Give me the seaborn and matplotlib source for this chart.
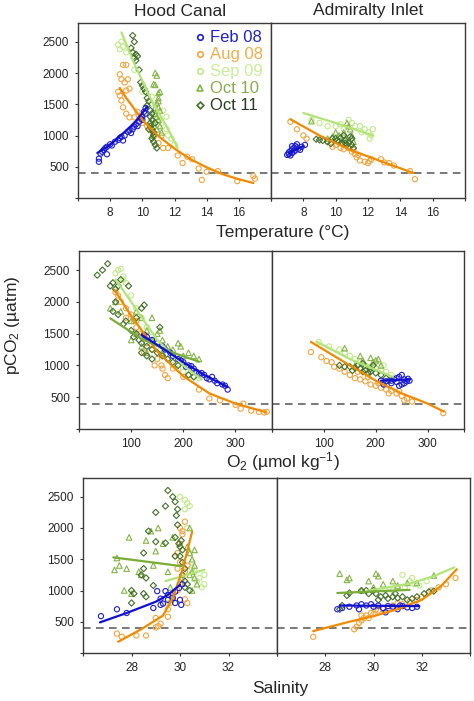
import matplotlib
matplotlib.use('Agg')
import matplotlib.pyplot as plt
from matplotlib.lines import Line2D
import seaborn as sns
import pandas as pd

# ---- data: (x, pCO2) pairs ----
labels = ['Feb 08', 'Aug 08', 'Sep 09', 'Oct 10', 'Oct 11']

# Hood Canal vs temperature
hc_temp_feb = [(7.3, 580), (7.3, 630), (7.4, 710), (7.5, 740), (7.6, 770), (7.7, 800), (7.8, 820), (7.8, 700),
               (8.0, 860), (8.1, 840), (8.3, 900), (8.5, 930), (8.6, 960), (8.7, 980), (8.8, 920), (8.9, 1000),
               (9.1, 1060), (9.2, 1080), (9.4, 1100), (9.5, 1140), (9.6, 1180), (9.7, 1150), (9.8, 1220),
               (9.9, 1270), (10.0, 1300), (10.1, 1380), (10.2, 1440), (10.2, 1350), (10.0, 1250), (9.3, 1040)]
hc_temp_aug = [(8.6, 1980), (8.8, 2130), (9.0, 2130), (8.7, 1900), (8.9, 1850), (9.1, 1900), (8.5, 1700),
               (8.6, 1640), (8.7, 1560), (9.0, 1720), (9.2, 1750), (8.8, 1450), (9.0, 1350), (9.2, 1290),
               (9.5, 1290), (9.7, 1380), (9.9, 1300), (10.0, 1200), (10.3, 1150), (10.5, 1080), (10.7, 980),
               (11.0, 880), (11.3, 800), (11.6, 800), (11.2, 1000), (12.5, 560), (12.8, 660), (13.1, 620),
               (13.5, 470), (13.7, 290), (14.0, 420), (14.7, 430), (15.9, 270), (16.9, 350), (17.0, 310), (12.2, 680)]
hc_temp_sep = [(8.5, 2450), (8.6, 2380), (8.7, 2500), (8.8, 2420), (9.0, 2330), (9.5, 2050), (10.0, 1700),
               (10.5, 1500), (10.8, 1350), (11.0, 1250), (11.2, 1200), (11.5, 1100), (11.6, 1000), (11.8, 950),
               (12.0, 860), (11.3, 1400), (11.0, 1150), (11.5, 1300), (10.6, 1620)]
hc_temp_oct10 = [(10.8, 2000), (10.9, 1960), (10.7, 1820), (10.8, 1810), (11.0, 1680), (11.1, 1700), (11.0, 1600),
                 (10.9, 1520), (11.0, 1450), (11.1, 1400), (10.8, 1350), (10.9, 1300), (11.0, 1250), (10.7, 1200),
                 (10.9, 1100), (11.1, 1150), (11.2, 1050), (10.6, 1000), (11.0, 1550), (10.8, 1450)]
hc_temp_oct11 = [(9.4, 2600), (9.5, 2500), (9.3, 2400), (9.4, 2330), (9.6, 2300), (9.5, 2240), (9.7, 2270),
                 (9.6, 2200), (9.8, 2050), (9.9, 1850), (10.0, 1800), (10.1, 1750), (10.2, 1700), (10.3, 1600),
                 (10.4, 1550), (10.3, 1480), (10.5, 1400), (10.5, 1300), (10.6, 1250), (10.5, 1150), (10.6, 1100),
                 (10.7, 1050), (10.6, 950), (10.7, 900), (10.8, 850), (10.9, 800), (10.7, 1000), (10.5, 1200),
                 (10.4, 1100), (10.8, 1200), (10.6, 1350)]
hc_temp_feb_fit = [(7.2, 720), (8.0, 850), (9.0, 1080), (9.6, 1230), (10.3, 1460)]
hc_temp_aug_fit = [(8.6, 1760), (9.0, 1600), (10.0, 1250), (11.0, 990), (12.0, 790), (13.0, 620), (14.0, 490),
                   (15.0, 380), (16.0, 300), (16.9, 240)]
hc_temp_sep_fit = [(8.7, 2650), (9.5, 2150), (10.5, 1600), (11.5, 1150), (12.2, 800)]

# Admiralty Inlet vs temperature
ai_temp_feb = [(7.1, 700), (7.2, 750), (7.3, 780), (7.4, 800), (7.5, 830), (7.6, 860), (7.2, 680), (7.3, 720),
               (7.5, 760), (7.7, 790), (7.9, 820), (8.1, 850), (7.4, 740), (7.6, 810), (7.0, 690), (7.3, 830),
               (7.8, 770), (7.1, 730)]
ai_temp_aug = [(7.2, 1220), (7.6, 1100), (8.0, 1000), (8.2, 950), (9.5, 900), (10.0, 850), (10.3, 800),
               (10.5, 780), (10.8, 800), (11.0, 740), (11.2, 700), (11.3, 650), (11.5, 600), (11.8, 580),
               (12.0, 560), (12.2, 620), (12.8, 620), (13.0, 570), (13.3, 560), (13.6, 520), (14.6, 430),
               (14.9, 300), (10.6, 850), (11.1, 770), (12.1, 590), (9.8, 820), (11.4, 690)]
ai_temp_sep = [(8.5, 1250), (9.0, 1200), (9.5, 1150), (10.0, 1150), (10.5, 1100), (10.8, 1250), (11.0, 1200),
               (11.2, 1150), (11.5, 1150), (11.8, 1100), (12.0, 1050), (12.2, 1000), (12.3, 1100), (11.6, 1050),
               (12.1, 950), (10.3, 1180)]
ai_temp_oct10 = [(8.5, 1230), (10.8, 1150), (10.5, 1050), (10.9, 1100), (11.0, 1000), (10.2, 1000), (9.8, 980),
                 (9.5, 950), (10.6, 950), (11.1, 900), (10.0, 1050), (10.7, 1200)]
ai_temp_oct11 = [(8.8, 940), (9.0, 930), (9.2, 920), (9.5, 900), (9.8, 950), (10.0, 950), (10.2, 900),
                 (10.4, 880), (10.6, 920), (10.8, 880), (11.0, 850), (11.1, 800), (10.5, 1000), (10.9, 980),
                 (9.7, 870), (10.3, 960), (10.7, 850), (10.1, 920), (10.6, 880), (11.0, 950)]
ai_temp_feb_fit = [(7.1, 720), (7.5, 770), (8.0, 830)]
ai_temp_aug_fit = [(7.2, 1260), (9.0, 1000), (11.0, 760), (13.0, 570), (14.8, 400)]
ai_temp_sep_fit = [(8.0, 1360), (10.0, 1200), (12.3, 1000)]

# Hood Canal vs O2
hc_o2_feb = [(125, 1480), (130, 1450), (140, 1400), (150, 1350), (160, 1300), (165, 1250), (175, 1200),
             (180, 1150), (190, 1100), (200, 1050), (205, 980), (210, 1000), (220, 950), (225, 900), (230, 870),
             (240, 850), (245, 800), (250, 780), (255, 820), (260, 760), (265, 720), (275, 700), (285, 620),
             (280, 680), (215, 990), (195, 1080), (235, 880)]
hc_o2_aug = [(70, 2150), (75, 2100), (80, 2000), (90, 1900), (100, 1800), (105, 1700), (110, 1600), (115, 1500),
             (120, 1450), (130, 1350), (140, 1250), (150, 1100), (160, 950), (158, 1000), (165, 850), (170, 800),
             (180, 950), (200, 820), (230, 620), (250, 480), (270, 450), (300, 380), (310, 320), (315, 400),
             (330, 290), (345, 270), (355, 260), (360, 270), (90, 1750), (110, 1700), (125, 1200), (145, 1000)]
hc_o2_sep = [(70, 2450), (75, 2500), (80, 2520), (85, 2400), (90, 2300), (100, 2100), (110, 1900), (120, 1750),
             (130, 1600), (140, 1450), (150, 1300), (160, 1200), (170, 1100), (180, 1000), (190, 950),
             (200, 900), (210, 850), (220, 820), (230, 800), (85, 2350)]
hc_o2_oct10 = [(60, 1900), (70, 2000), (80, 1850), (100, 1700), (110, 1850), (120, 1750), (130, 1550),
               (140, 1750), (150, 1500), (155, 1550), (160, 1400), (170, 1300), (180, 1250), (190, 1350),
               (195, 1300), (200, 1150), (210, 1200), (220, 1150), (230, 1100), (140, 1400), (120, 1300),
               (100, 1400), (160, 1200), (130, 1200), (110, 1500)]
hc_o2_oct11 = [(35, 2420), (45, 2500), (55, 2600), (60, 2250), (65, 2300), (70, 2200), (75, 2250), (80, 2350),
               (95, 2250), (70, 2000), (65, 1850), (75, 1800), (85, 1650), (90, 1700), (100, 1550), (110, 1500),
               (110, 1750), (120, 1900), (125, 1950), (115, 1400), (120, 1350), (130, 1300), (140, 1250),
               (150, 1200), (155, 1600), (160, 1150), (170, 1100), (180, 1050), (190, 1000), (210, 850),
               (220, 820), (130, 1150), (140, 1100), (120, 1200), (105, 1450)]
hc_o2_feb_fit = [(120, 1480), (160, 1270), (200, 1050), (240, 850), (285, 660)]
hc_o2_aug_fit = [(68, 2190), (100, 1780), (150, 1220), (200, 830), (250, 560), (300, 400), (358, 265)]
hc_o2_sep_fit = [(70, 2350), (100, 2000), (150, 1400), (200, 1000), (235, 780)]
hc_o2_oct10_fit = [(60, 1740), (120, 1420), (180, 1200), (230, 1060)]

# Admiralty Inlet vs O2
ai_o2_feb = [(210, 760), (220, 750), (230, 760), (235, 780), (240, 800), (245, 820), (250, 850), (255, 780),
             (260, 750), (265, 760), (250, 700), (245, 680), (240, 740), (255, 720), (230, 720), (262, 790),
             (215, 700)]
ai_o2_aug = [(75, 1210), (95, 1130), (105, 1070), (115, 1050), (120, 980), (130, 950), (140, 900), (150, 850),
             (160, 800), (170, 780), (180, 750), (190, 700), (200, 680), (210, 650), (220, 620), (230, 600),
             (240, 560), (250, 520), (260, 480), (270, 430), (330, 250), (165, 900), (185, 820), (205, 720),
             (225, 560), (245, 600), (255, 450)]
ai_o2_sep = [(90, 1370), (110, 1300), (130, 1250), (140, 1200), (150, 1150), (160, 1100), (170, 1050),
             (180, 1000), (190, 980), (200, 950), (210, 920), (220, 900), (230, 850), (200, 1050), (215, 1000)]
ai_o2_oct10 = [(140, 1270), (170, 1150), (190, 1120), (200, 1080), (205, 1100), (195, 1050), (180, 1000),
               (210, 1000), (160, 1000), (175, 1080)]
ai_o2_oct11 = [(130, 1000), (140, 980), (150, 980), (160, 960), (170, 950), (175, 900), (180, 920), (185, 880),
               (190, 900), (200, 880), (165, 1000), (175, 1030), (190, 950), (210, 850), (220, 800), (225, 760),
               (155, 920), (195, 1000)]
ai_o2_feb_fit = [(210, 760), (265, 780)]
ai_o2_aug_fit = [(75, 1370), (150, 1000), (200, 760), (250, 560), (300, 400), (331, 275)]
ai_o2_sep_fit = [(87, 1370), (150, 1100), (233, 820)]

# Hood Canal vs salinity
hc_sal_feb = [(26.74, 590), (27.4, 700), (27.8, 640), (29.06, 990), (28.9, 720), (29.2, 770), (29.3, 790),
              (29.5, 930), (29.4, 990), (29.8, 980), (29.7, 880), (30.0, 850), (30.05, 770), (29.96, 1040),
              (30.1, 1100), (29.5, 850), (29.2, 870), (29.8, 800)]
hc_sal_aug = [(27.4, 310), (27.6, 260), (28.2, 280), (28.6, 280), (29.0, 410), (29.1, 430), (29.2, 470),
              (29.0, 560), (29.5, 700), (29.6, 800), (29.5, 580), (29.7, 900), (29.9, 1000), (30.0, 1100),
              (30.1, 1200), (30.2, 1300), (30.3, 800), (30.2, 860), (29.9, 1350), (29.9, 1600), (30.0, 1750),
              (30.1, 1900), (30.0, 2000), (30.2, 2100), (30.1, 1950), (30.3, 1400), (29.8, 1550), (30.0, 1450)]
hc_sal_sep = [(30.0, 2500), (30.2, 2450), (30.3, 2400), (30.4, 2350), (30.2, 2300), (30.6, 1300), (30.8, 1200),
              (31.0, 1100), (30.9, 1050), (30.7, 1150), (30.5, 1450), (30.4, 1600), (30.3, 2000), (30.5, 1350),
              (29.6, 900), (29.7, 850), (29.5, 800), (31.0, 1250)]
hc_sal_oct10 = [(27.4, 1520), (27.3, 1330), (27.5, 1400), (27.8, 1350), (27.9, 1850), (27.7, 1000), (28.0, 950),
                (28.3, 1300), (28.4, 1250), (28.6, 1800), (28.8, 1950), (28.9, 1400), (29.0, 1630), (29.1, 2000),
                (29.3, 1750), (29.5, 1300), (29.7, 1850), (30.3, 1700), (30.4, 1600), (30.5, 1500), (30.6, 1400),
                (30.5, 1300), (30.6, 1200), (30.7, 1100), (30.5, 1000), (30.4, 1250), (30.6, 1650), (29.6, 1050),
                (30.4, 2000)]
hc_sal_oct11 = [(29.5, 2600), (29.7, 2500), (29.8, 2420), (29.4, 2350), (29.0, 2250), (29.9, 2300), (29.85, 2200),
                (29.9, 2050), (28.7, 1950), (29.0, 1780), (29.4, 1760), (28.5, 1600), (28.4, 1250), (28.6, 1200),
                (28.0, 1000), (28.1, 950), (28.0, 800), (28.5, 950), (28.6, 900), (28.9, 1080), (29.8, 1850),
                (29.95, 1750), (30.0, 1700), (30.1, 1650), (30.0, 1550), (30.1, 1450), (30.2, 1350), (30.1, 1250),
                (30.2, 1150), (30.3, 1100), (30.4, 1000), (30.2, 1050), (29.8, 1550), (30.05, 1800), (28.5, 1350)]
hc_sal_feb_fit = [(26.7, 490), (27.8, 640), (29.0, 820), (29.5, 930), (30.0, 1090)]
hc_sal_aug_fit = [(27.45, 180), (28.4, 380), (29.3, 600), (29.7, 880), (30.1, 1330), (30.5, 1940)]
hc_sal_sep_fit = [(29.4, 1150), (31.0, 1330)]
hc_sal_oct10_fit = [(27.25, 1530), (30.05, 1390)]

# Admiralty Inlet vs salinity
ai_sal_feb = [(28.5, 700), (28.7, 720), (29.0, 740), (29.3, 760), (29.5, 780), (29.7, 760), (30.0, 740),
              (30.2, 760), (30.4, 720), (30.6, 750), (30.8, 740), (31.0, 700), (31.2, 750), (31.4, 730),
              (31.6, 720), (31.8, 740), (29.4, 700), (30.5, 650), (31.1, 760), (29.9, 780)]
ai_sal_aug = [(27.5, 260), (29.2, 380), (29.3, 420), (29.4, 480), (29.5, 520), (29.6, 560), (29.7, 600),
              (29.8, 560), (29.9, 640), (30.0, 620), (30.2, 680), (30.4, 700), (30.6, 720), (30.8, 760),
              (31.0, 800), (31.2, 780), (31.5, 820), (31.8, 850), (32.0, 900), (32.4, 1000), (32.7, 1050),
              (33.0, 1100), (33.4, 1200), (29.5, 600), (30.1, 700)]
ai_sal_sep = [(31.2, 1250), (31.5, 1150), (31.7, 1100), (31.9, 1080), (32.2, 1150), (31.0, 1050), (30.8, 1000),
              (31.3, 1050), (31.6, 1200), (30.5, 1000)]
ai_sal_oct10 = [(28.6, 1270), (28.9, 1170), (29.0, 1200), (30.1, 1270), (30.2, 1230), (30.8, 1150), (31.4, 1120),
                (31.8, 1120), (32.5, 1240), (29.5, 1000), (30.0, 1050), (30.4, 1100), (29.8, 1150), (31.0, 1080)]
ai_sal_oct11 = [(28.7, 760), (28.9, 920), (29.0, 960), (29.5, 1000), (29.7, 1000), (29.8, 950), (30.0, 1000),
                (30.1, 950), (30.3, 900), (30.5, 920), (30.6, 870), (30.8, 900), (31.0, 880), (31.2, 900),
                (31.4, 850), (31.6, 870), (31.8, 900), (32.1, 950), (32.3, 980), (32.5, 990), (30.2, 850),
                (30.9, 950), (28.6, 700)]
ai_sal_feb_fit = [(28.6, 760), (31.9, 750)]
ai_sal_aug_fit = [(27.5, 350), (29.0, 500), (30.0, 590), (31.0, 700), (32.0, 850), (32.8, 1070), (33.45, 1340)]
ai_sal_sep_fit = [(29.8, 1000), (31.5, 1110), (32.5, 1230), (33.35, 1370)]
ai_sal_oct10_fit = [(28.5, 960), (31.5, 1010)]

# ---- styling ----
sns.set_theme(style='white')
plt.rcParams['font.family'] = ['Liberation Sans', 'DejaVu Sans']
plt.rcParams['mathtext.fontset'] = 'custom'
plt.rcParams['mathtext.rm'] = 'Liberation Sans'
plt.rcParams['mathtext.it'] = 'Liberation Sans'

STYLE = {
    'feb': dict(marker='o', color='#1f1fd2', line='#1010d0', text='#2222cc', s=14),
    'aug': dict(marker='o', color='#f2a540', line='#f08a00', text='#f0ae4c', s=14),
    'sep': dict(marker='o', color='#c2ea8c', line='#b2e478', text='#c8ee98', s=14),
    'oct10': dict(marker='^', color='#86b448', line='#78ad36', text='#88aa4c', s=16),
    'oct11': dict(marker='D', color='#44702a', line='#3e6a26', text='#2c3c20', s=10),
}
KEYS = ['feb', 'aug', 'sep', 'oct10', 'oct11']
DRAW_ORDER = ['sep', 'aug', 'oct10', 'oct11', 'feb']

W, H = 474, 701
fig = plt.figure(figsize=(W / 100, H / 100), dpi=100)


def add_ax(x0, x1, top, bottom):
    return fig.add_axes([x0 / W, 1 - bottom / H, (x1 - x0) / W, (bottom - top) / H])


def draw(ax, pts, fits, xlim, xticks, show_y):
    for key in DRAW_ORDER:
        if key not in pts:
            continue
        st = STYLE[key]
        df = pd.DataFrame(pts[key], columns=['x', 'y'])
        sns.scatterplot(data=df, x='x', y='y', ax=ax, marker=st['marker'], s=st['s'],
                        facecolors='none', edgecolor=st['color'], linewidth=0.8, legend=False, zorder=2)
    for key in DRAW_ORDER:
        if key not in fits:
            continue
        df = pd.DataFrame(fits[key], columns=['x', 'y'])
        sns.lineplot(data=df, x='x', y='y', ax=ax, color=STYLE[key]['line'], lw=1.6,
                     sort=False, estimator=None, legend=False, zorder=3)
    ax.axhline(400, color='#555555', lw=1.1, ls=(0, (5, 3.5)), zorder=1)
    ax.set_xlim(*xlim)
    ax.set_ylim(0, 2800)
    ax.set_xticks(xticks)
    ax.set_xticklabels([''] + [str(t) for t in xticks[1:-1]] + [''])
    ax.set_yticks([0, 500, 1000, 1500, 2000, 2500])
    if show_y:
        ax.set_yticklabels(['', '500', '1000', '1500', '2000', '2500'])
        ax.tick_params(axis='y', left=True)
    else:
        ax.tick_params(axis='y', left=False, labelleft=False)
    ax.tick_params(axis='both', direction='out', length=2.5, width=0.8, color='#333333',
                   labelsize=8.5, pad=4, bottom=True)
    ax.set_xlabel('')
    ax.set_ylabel('')
    for sp in ax.spines.values():
        sp.set_color('#3a3a3a')
        sp.set_linewidth(1.0)


temp_lim, temp_ticks = (6, 18), [6, 8, 10, 12, 14, 16, 18]
o2_lim, o2_ticks = (0, 370), [0, 100, 200, 300, 370]
sal_lim, sal_ticks = (26, 34), [26, 28, 30, 32, 34]

ax = add_ax(78, 271, 23, 198)
draw(ax, {'feb': hc_temp_feb, 'aug': hc_temp_aug, 'sep': hc_temp_sep, 'oct10': hc_temp_oct10, 'oct11': hc_temp_oct11},
     {'feb': hc_temp_feb_fit, 'aug': hc_temp_aug_fit, 'sep': hc_temp_sep_fit}, temp_lim, temp_ticks, True)
handles = [Line2D([], [], ls='none', marker=STYLE[k]['marker'], mfc='none', mec=STYLE[k]['color'],
                  ms=4 if STYLE[k]['marker'] != 'D' else 3.4, mew=1.2) for k in KEYS]
ax.legend(handles, labels, loc='upper right', frameon=False, fontsize=12,
          labelcolor=[STYLE[k]['text'] for k in KEYS], handletextpad=0.3, labelspacing=0.12,
          handlelength=0.7, borderaxespad=0.25, borderpad=0.2)

ax = add_ax(271, 465, 23, 198)
draw(ax, {'feb': ai_temp_feb, 'aug': ai_temp_aug, 'sep': ai_temp_sep, 'oct10': ai_temp_oct10, 'oct11': ai_temp_oct11},
     {'feb': ai_temp_feb_fit, 'aug': ai_temp_aug_fit, 'sep': ai_temp_sep_fit}, temp_lim, temp_ticks, False)

ax = add_ax(79, 272, 251, 429)
draw(ax, {'feb': hc_o2_feb, 'aug': hc_o2_aug, 'sep': hc_o2_sep, 'oct10': hc_o2_oct10, 'oct11': hc_o2_oct11},
     {'feb': hc_o2_feb_fit, 'aug': hc_o2_aug_fit, 'sep': hc_o2_sep_fit, 'oct10': hc_o2_oct10_fit},
     o2_lim, o2_ticks, True)

ax = add_ax(272, 464, 251, 429)
draw(ax, {'feb': ai_o2_feb, 'aug': ai_o2_aug, 'sep': ai_o2_sep, 'oct10': ai_o2_oct10, 'oct11': ai_o2_oct11},
     {'feb': ai_o2_feb_fit, 'aug': ai_o2_aug_fit, 'sep': ai_o2_sep_fit}, o2_lim, o2_ticks, False)

ax = add_ax(83, 277, 478, 653)
draw(ax, {'feb': hc_sal_feb, 'aug': hc_sal_aug, 'sep': hc_sal_sep, 'oct10': hc_sal_oct10, 'oct11': hc_sal_oct11},
     {'feb': hc_sal_feb_fit, 'aug': hc_sal_aug_fit, 'sep': hc_sal_sep_fit, 'oct10': hc_sal_oct10_fit},
     sal_lim, sal_ticks, True)

ax = add_ax(277, 470, 478, 653)
draw(ax, {'feb': ai_sal_feb, 'aug': ai_sal_aug, 'sep': ai_sal_sep, 'oct10': ai_sal_oct10, 'oct11': ai_sal_oct11},
     {'feb': ai_sal_feb_fit, 'aug': ai_sal_aug_fit, 'sep': ai_sal_sep_fit, 'oct10': ai_sal_oct10_fit},
     sal_lim, sal_ticks, False)

# titles and axis labels
fig.text(180 / W, 1 - 11 / H, 'Hood Canal', ha='center', va='center', fontsize=12.5)
fig.text(368 / W, 1 - 11 / H, 'Admiralty Inlet', ha='center', va='center', fontsize=12.5)
fig.text(283 / W, 1 - 233 / H, 'Temperature (°C)', ha='center', va='center', fontsize=12.5)
fig.text(283 / W, 1 - 462 / H, 'O$_2$ (µmol kg$^{-1}$)', ha='center', va='center', fontsize=12.5)
fig.text(280 / W, 1 - 688 / H, 'Salinity', ha='center', va='center', fontsize=12.5)
fig.text(13 / W, 1 - 325 / H, 'pCO$_2$ (µatm)', ha='center', va='center', rotation=90, fontsize=12.5)

fig.savefig('out.png', dpi=100)
